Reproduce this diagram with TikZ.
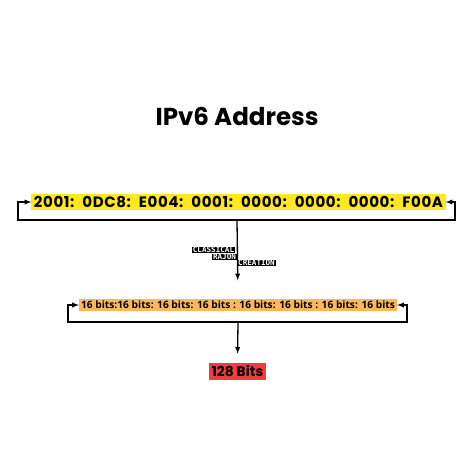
\documentclass[tikz,border=0pt]{standalone}
\usepackage{fontspec}
\setmainfont{Poppins}
\newfontfamily\bitsfont{Open Sans}
\newfontfamily\markfont{DejaVu Sans Mono}
\usetikzlibrary{arrows}
\definecolor{addryellow}{HTML}{FFE81C}
\definecolor{bitsorange}{HTML}{FDB75C}
\definecolor{totalred}{HTML}{F23B3B}
\newcommand{\gap}{\hspace{8pt}}
\tikzset{
  field/.style={inner xsep=2pt, inner ysep=3pt, font=\bfseries},
  link/.style={line width=1.3pt, >=latex},
  stamp/.style={fill=black, text=white, inner xsep=0.8pt, inner ysep=0.3pt, font=\markfont\bfseries\fontsize{7.6}{8}\selectfont}
}
\begin{document}
\begin{tikzpicture}[x=1pt, y=-1pt]
        \useasboundingbox[fill=white] (0,0) rectangle (474,474);

        % TITOLO
        \node[font=\fontsize{24.5}{28}\selectfont\bfseries] (title) at (237,116) {IPv6 Address};

        % INDIRIZZO
        \node[field, fill=addryellow, inner xsep=2.5pt, inner ysep=2pt, font=\fontsize{15}{18}\selectfont\bfseries\addfontfeatures{LetterSpace=4}] (addr) at (238.5,202) {2001:\gap 0DC8:\gap E004:\gap 0001:\gap 0000:\gap 0000:\gap 0000:\gap F00A};
        \coordinate (j1) at (237,220);
        \coordinate (aL) at (18,220);
        \coordinate (aR) at (455,220);
        \draw[->, link] (j1) -- (aL) |- (addr.west);
        \draw[->, link] (j1) -- (aR) |- (addr.east);

        % FILIGRANA
        \node[stamp] (w1) at (213.5,250) {CLASSICAL};
        \node[stamp] (w2) at (224.5,257) {RAJON};
        \node[stamp] (w3) at (256.5,263) {CREATION};

        % BIT
        \node[field, fill=bitsorange, inner ysep=2.5pt, font=\bitsfont\fontsize{10.2}{12}\selectfont\bfseries] (bits) at (238,305) {16 bits:16 bits: 16 bits: 16 bits : 16 bits: 16 bits : 16 bits: 16 bits};
        \draw[->, link, shorten >=18pt] (j1) -- (bits.north);
        \coordinate (j2) at (238,322);
        \coordinate (bL) at (68,322);
        \coordinate (bR) at (407,322);
        \draw[->, link] (j2) -- (bL) |- (bits.west);
        \draw[->, link] (j2) -- (bR) |- (bits.east);

        % TOTALE
        \node[field, fill=totalred, inner xsep=3pt, font=\fontsize{13.8}{16}\selectfont\bfseries] (total) at (237.5,371.5) {128 Bits};
        \draw[->, link, shorten >=9pt] (j2) -- (total.north);
    \end{tikzpicture}
\end{document}
